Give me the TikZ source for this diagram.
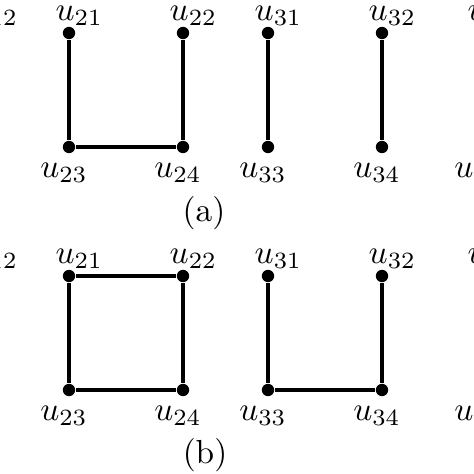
\documentclass[tikz,border=0pt]{standalone}
\begin{document}
\begin{tikzpicture}[x=0.3pt,y=-0.3pt,
  vtx/.style={circle,fill=black,inner sep=0pt,minimum size=3.7pt},
  edge/.style={line width=1.05pt},
  toplab/.style={anchor=south west,inner sep=0pt},
  botlab/.style={anchor=north,inner sep=0pt},
  figcap/.style={inner sep=0pt}]
\useasboundingbox (0,0) rectangle (474,474);
\clip (0,0) rectangle (474,474);
% ---------- (a) ----------
\node[vtx] (a12) at (-16,33) {};
\node[vtx] (a14) at (-16,147) {};
\node[vtx] (a21) at (69,33) {};
\node[vtx] (a22) at (183,33) {};
\node[vtx] (a23) at (69,147) {};
\node[vtx] (a24) at (183,147) {};
\node[vtx] (a31) at (268,33) {};
\node[vtx] (a32) at (382,33) {};
\node[vtx] (a33) at (268,147) {};
\node[vtx] (a34) at (382,147) {};
\node[vtx] (a41) at (481,33) {};
\node[vtx] (a43) at (481,147) {};
\node[toplab] (la12) at (-30,26) {$u_{12}$};
\node[botlab] (la14) at (-21,162) {$u_{14}$};
\node[toplab] (la21) at (55,26) {$u_{21}$};
\node[toplab] (la22) at (169,26) {$u_{22}$};
\node[botlab] (la23) at (64,162) {$u_{23}$};
\node[botlab] (la24) at (178,162) {$u_{24}$};
\node[toplab] (la31) at (254,26) {$u_{31}$};
\node[toplab] (la32) at (368,26) {$u_{32}$};
\node[botlab] (la33) at (263,162) {$u_{33}$};
\node[botlab] (la34) at (377,162) {$u_{34}$};
\node[toplab] (la41) at (467,26) {$u_{41}$};
\node[botlab] (la43) at (478,162) {$u_{43}$};
\draw[edge] (a21) -- (a23) -- (a24) -- (a22);
\draw[edge] (a31) -- (a33);
\draw[edge] (a32) -- (a34);
\node[figcap] (capa) at (204,213.5) {(a)};
% ---------- (b) ----------
\node[vtx] (b12) at (-16,276) {};
\node[vtx] (b14) at (-16,390) {};
\node[vtx] (b21) at (69,276) {};
\node[vtx] (b22) at (183,276) {};
\node[vtx] (b23) at (69,390) {};
\node[vtx] (b24) at (183,390) {};
\node[vtx] (b31) at (268,276) {};
\node[vtx] (b32) at (382,276) {};
\node[vtx] (b33) at (268,390) {};
\node[vtx] (b34) at (382,390) {};
\node[vtx] (b41) at (481,276) {};
\node[vtx] (b43) at (481,390) {};
\node[toplab] (lb12) at (-30,269) {$u_{12}$};
\node[botlab] (lb14) at (-21,405) {$u_{14}$};
\node[toplab] (lb21) at (55,269) {$u_{21}$};
\node[toplab] (lb22) at (169,269) {$u_{22}$};
\node[botlab] (lb23) at (64,405) {$u_{23}$};
\node[botlab] (lb24) at (178,405) {$u_{24}$};
\node[toplab] (lb31) at (254,269) {$u_{31}$};
\node[toplab] (lb32) at (368,269) {$u_{32}$};
\node[botlab] (lb33) at (263,405) {$u_{33}$};
\node[botlab] (lb34) at (377,405) {$u_{34}$};
\node[toplab] (lb41) at (467,269) {$u_{41}$};
\node[botlab] (lb43) at (478,405) {$u_{43}$};
\draw[edge] (b21) -- (b22) -- (b24) -- (b23) -- (b21);
\draw[edge] (b31) -- (b33) -- (b34) -- (b32);
\node[figcap] (capb) at (205,455) {(b)};
\end{tikzpicture}
\end{document}
